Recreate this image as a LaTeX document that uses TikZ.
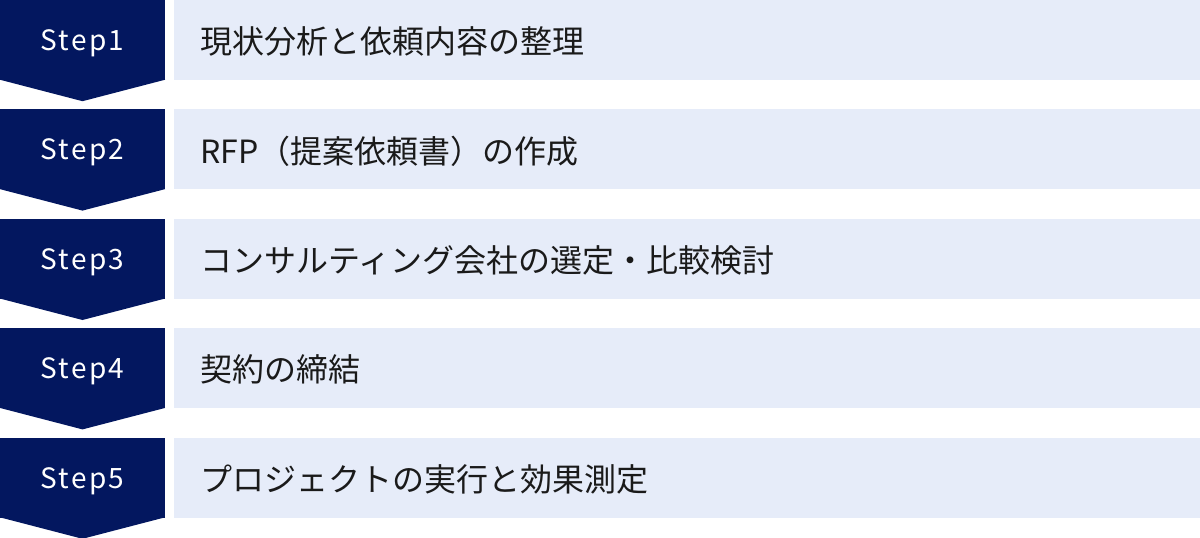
\documentclass[tikz,border=0pt]{standalone}
\usepackage{fontspec}
\setmainfont{Noto Sans CJK JP}
\newfontfamily\stepfont{Noto Sans CJK JP}[LetterSpace=8]
\usepackage{tikz}
\usetikzlibrary{positioning, calc}

\definecolor{navy}{HTML}{03175F}
\definecolor{paleblue}{HTML}{E6ECF9}
\definecolor{ink}{HTML}{1A1A1A}

\begin{document}
\begin{tikzpicture}[x=1pt, y=1pt, node distance=29pt and 9pt,
		stepbox/.style={fill=navy, text=white, minimum width=165pt, minimum height=80pt, inner sep=0pt, text depth=0pt,
			font=\stepfont\fontsize{28}{32}\selectfont},
		taskbox/.style={fill=paleblue, text=ink, minimum width=1026pt, minimum height=80pt, inner xsep=26pt, inner ysep=0pt,
			text width=974pt, text depth=0pt, align=left, font=\fontsize{32}{36}\selectfont}]
		\useasboundingbox (0,0) rectangle (1200,-538);
		\node[stepbox] (s1) at (82.5,-40) {Step1};
		\node[stepbox, below=of s1] (s2) {Step2};
		\node[stepbox, below=of s2] (s3) {Step3};
		\node[stepbox, below=of s3] (s4) {Step4};
		\node[stepbox, below=of s4] (s5) {Step5};
		\fill[navy] ($(s1.south west) + (0,0.5)$) -- ($(s1.south east) + (0,0.5)$) -- ($(s1.south) + (0,-21)$) -- cycle;
		\fill[navy] ($(s2.south west) + (0,0.5)$) -- ($(s2.south east) + (0,0.5)$) -- ($(s2.south) + (0,-21)$) -- cycle;
		\fill[navy] ($(s3.south west) + (0,0.5)$) -- ($(s3.south east) + (0,0.5)$) -- ($(s3.south) + (0,-21)$) -- cycle;
		\fill[navy] ($(s4.south west) + (0,0.5)$) -- ($(s4.south east) + (0,0.5)$) -- ($(s4.south) + (0,-21)$) -- cycle;
		\fill[navy] ($(s5.south west) + (0,0.5)$) -- ($(s5.south east) + (0,0.5)$) -- ($(s5.south) + (0,-21)$) -- cycle;
		\node[taskbox, right=of s1] (t1) {現状分析と依頼内容の整理};
		\node[taskbox, right=of s2] (t2) {RFP（提案依頼書）の作成};
		\node[taskbox, right=of s3] (t3) {コンサルティング会社の選定・比較検討};
		\node[taskbox, right=of s4] (t4) {契約の締結};
		\node[taskbox, right=of s5] (t5) {プロジェクトの実行と効果測定};
	\end{tikzpicture}
\end{document}
